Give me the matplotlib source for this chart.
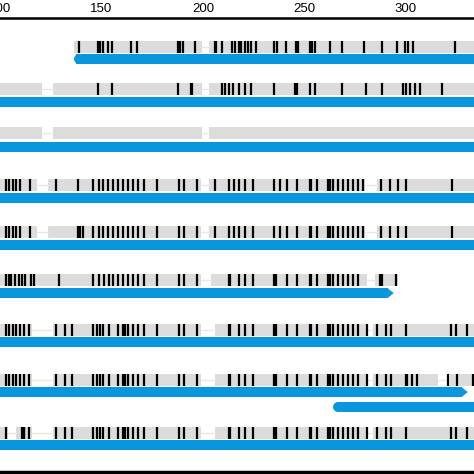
import matplotlib
matplotlib.use("Agg")
import matplotlib.pyplot as plt
import numpy as np

xmin, xmax = 102.75, 333.6
ticks = [100, 150, 200, 250, 300]

gray_y = [47, 89, 133, 185, 232, 280, 330, 380, 433]
blue_y = [59, 102, 147, 198, 245, 293, 342, 392, 445]
gray_start = [136.7, 100, 100, 100, 100, 100, 100, 100, 100]
gray_end = [340, 340, 340, 340, 340, 296.0, 340, 340, 340]
blue_start = [137.5, 100, 100, 100, 100, 100, 100, 100, 100]
blue_end = [340, 340, 340, 340, 340, 291.0, 340, 327.5, 340]
arrow_rows = [5, 7]
extra_bar = (264.0, 340, 407)

gaps = [
    [(199.5, 203)],
    [(120.5, 126), (199.5, 203)],
    [(120.5, 126), (199.5, 203)],
    [(118, 123.6), (199, 203), (280, 286)],
    [(118, 123.6), (199, 203), (280, 286)],
    [(199, 204), (281, 285)],
    [(116, 126), (199, 206), (281, 284)],
    [(116, 126), (199, 206), (281, 284), (316, 322)],
    [(104, 108), (116, 126), (199, 206), (281, 284)],
]

m4 = [103.2, 104.5, 106.5, 107.8, 109.8, 114.7, 127.7, 138.3, 145.7, 149, 150.6, 153, 155.5, 158,
      160.4, 162.9, 165.3, 167.8, 171, 177.6, 188.2, 190.6, 197.2, 206.2, 212.7, 215.1, 217.6,
      220.9, 224.9, 234.8, 238, 241.3, 246.2, 252.7, 253.5, 256, 261.7, 262.5, 264.2, 266.6,
      269.1, 271.5, 274, 276.4, 278.9, 287.9, 292, 296, 300.1, 323]
m6 = [103, 104.2, 105.5, 107.5, 109.5, 111, 112.5, 115.5, 117, 129, 145.7, 149, 151.5, 153.5,
      155.5, 158, 160.4, 162.9, 165.3, 167.8, 171, 177.6, 188.2, 190.6, 197.2, 212.7, 213.5,
      217.6, 220.5, 224.9, 234.8, 236, 241.3, 246.2, 252.7, 253.5, 256, 261.7, 262.5, 264.2,
      266.6, 269.1, 271.5, 274, 276.4, 287.5, 288.5, 295]
m7 = [103, 104.5, 106.5, 108, 110, 112, 114.5, 127.5, 132, 135.5, 145.7, 148, 149.5, 151, 153.5,
      158, 160.4, 161.5, 163, 165.3, 167.8, 171, 177.6, 188.2, 190.6, 197.2, 212.7, 213.5,
      217.6, 220.5, 224.9, 234.8, 236, 241.3, 246.2, 252.7, 253.5, 256, 261.7, 262.5, 264.2,
      266.6, 269.1, 271.5, 274, 276.4, 281, 286, 290, 292.5, 300, 322.5, 324.5, 330]
marks = [
    [139, 148.5, 149.5, 151, 153, 155.3, 164.7, 167.6, 187.7, 188.6, 190, 196, 205.8, 206.6,
     209.3, 214.2, 215.6, 217.6, 219, 220.5, 222, 223.5, 226, 234.8, 236.7, 241, 246, 246.8,
     253, 253.8, 255.3, 262.7, 268.6, 279.4, 288.2, 295.5, 299.5, 301, 303.4, 324],
    [148.5, 155.3, 187.7, 194, 194.6, 209.3, 211, 213, 215, 217.6, 220.5, 223.5, 234.8, 245.5,
     246.2, 253, 255.3, 268.6, 280.3, 288.2, 298.5, 300, 302, 304.4, 306.8, 317.6],
    [],
    m4,
    [x for x in m4 if x not in (127.7,)] + [139.5, 141],
    m6,
    m7,
    m7[:-3] + [300.5, 303, 305.5, 321, 325, 333],
    [x for x in m7 if x > 110] + [103, 111, 112],
]

gray = "#dcdcdc"
blue = "#0a96dc"

fig = plt.figure(figsize=(4.74, 4.74), dpi=100)
ax = fig.add_axes([0, 0.004, 1, (474 - 18 - 2) / 474])

for i in range(9):
    ax.barh(gray_y[i], gray_end[i] - gray_start[i], left=gray_start[i], height=12,
            color=gray, linewidth=0, zorder=1)
    for a, b in gaps[i]:
        ax.barh(gray_y[i], b - a, left=a, height=13, color="white", linewidth=0, zorder=2)
        ax.plot([a, b], [gray_y[i], gray_y[i]], color="#f0e8d8", lw=1, zorder=2.5)
    ax.vlines(marks[i], gray_y[i] - 6, gray_y[i] + 6, color="black", lw=1.6, zorder=3)
    ax.barh(blue_y[i], blue_end[i] - blue_start[i], left=blue_start[i], height=10,
            color=blue, linewidth=0, zorder=2)
    if i == 0:
        ax.plot([blue_start[i] + 1.5, blue_start[i] + 3], [blue_y[i]] * 2, color=blue,
                lw=7.2, solid_capstyle="round", zorder=2)
    if i in arrow_rows:
        e = blue_end[i]
        ax.fill([e, e + 3, e], [blue_y[i] - 5, blue_y[i], blue_y[i] + 5], color=blue,
                linewidth=0, zorder=2)

s, e, y = extra_bar
ax.barh(y, e - s - 2, left=s + 2, height=10, color=blue, linewidth=0, zorder=2)
ax.plot([s + 2.5, s + 3], [y, y], color=blue, lw=7.2, solid_capstyle="round", zorder=2)

ax.set_xlim(xmin, xmax)
ax.set_ylim(472, 18)
ax.xaxis.tick_top()
ax.set_xticks(ticks)
ax.set_xticklabels([str(t) for t in ticks], fontsize=9.5, family="Liberation Sans")
ax.tick_params(axis="x", direction="in", length=0, pad=2)
ax.set_yticks([])
for sp in ["left", "right"]:
    ax.spines[sp].set_visible(False)
ax.spines["top"].set_linewidth(1.8)
ax.spines["bottom"].set_linewidth(2.5)

fig.savefig("out.png", dpi=100)
